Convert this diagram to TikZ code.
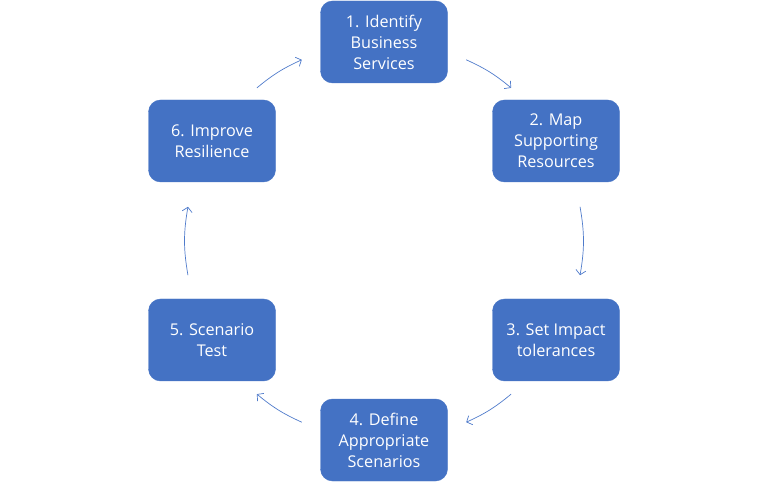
\documentclass[tikz,border=0pt]{standalone}
\usepackage{fontspec}
\setmainfont{Open Sans}
\usetikzlibrary{arrows.meta,calc}
\definecolor{boxblue}{HTML}{4472C4}
\definecolor{arrblue}{HTML}{4F7BCB}
\begin{document}
\begin{tikzpicture}[x=1pt,y=1pt,
  stepbox/.style={rectangle, rounded corners=12pt, fill=boxblue, draw=boxblue,
    minimum width=127pt, minimum height=82pt, text=white, align=center,
    font=\fontsize{16.2}{21}\selectfont, inner sep=2pt},
  arr/.style={draw=arrblue, line width=0.7pt, -{Straight Barb[length=4.5pt,width=10pt,line width=0.7pt]}}]
\useasboundingbox (0,0) rectangle (768,482);
\node[stepbox] (n1) at (384,440) {1. Identify\\Business\\Services};
\node[stepbox] (n2) at (556,341) {2. Map\\Supporting\\Resources};
\node[stepbox] (n3) at (556,142) {3. Set Impact\\tolerances};
\node[stepbox] (n4) at (384,42) {4. Define\\Appropriate\\Scenarios};
\node[stepbox] (n5) at (212,142) {5. Scenario\\Test};
\node[stepbox] (n6) at (212,341) {6. Improve\\Resilience};
\coordinate (ctr) at (384,241);
\foreach \nm/\ang in {a1/65.6, b1/50.3, a2/9.9, b2/-9.9, a3/-50.3, b3/-65.6,
                      a4/245.6, b4/230.3, a5/189.9, b5/170.1, a6/129.7, b6/114.4}
  \coordinate (\nm) at ($(ctr)+(\ang:199)$);
\draw[arr] (a1) to[bend left=7.65] (b1);
\draw[arr] (a2) to[bend left=9.9] (b2);
\draw[arr] (a3) to[bend left=7.65] (b3);
\draw[arr] (a4) to[bend left=7.65] (b4);
\draw[arr] (a5) to[bend left=9.9] (b5);
\draw[arr] (a6) to[bend left=7.65] (b6);
\end{tikzpicture}
\end{document}
